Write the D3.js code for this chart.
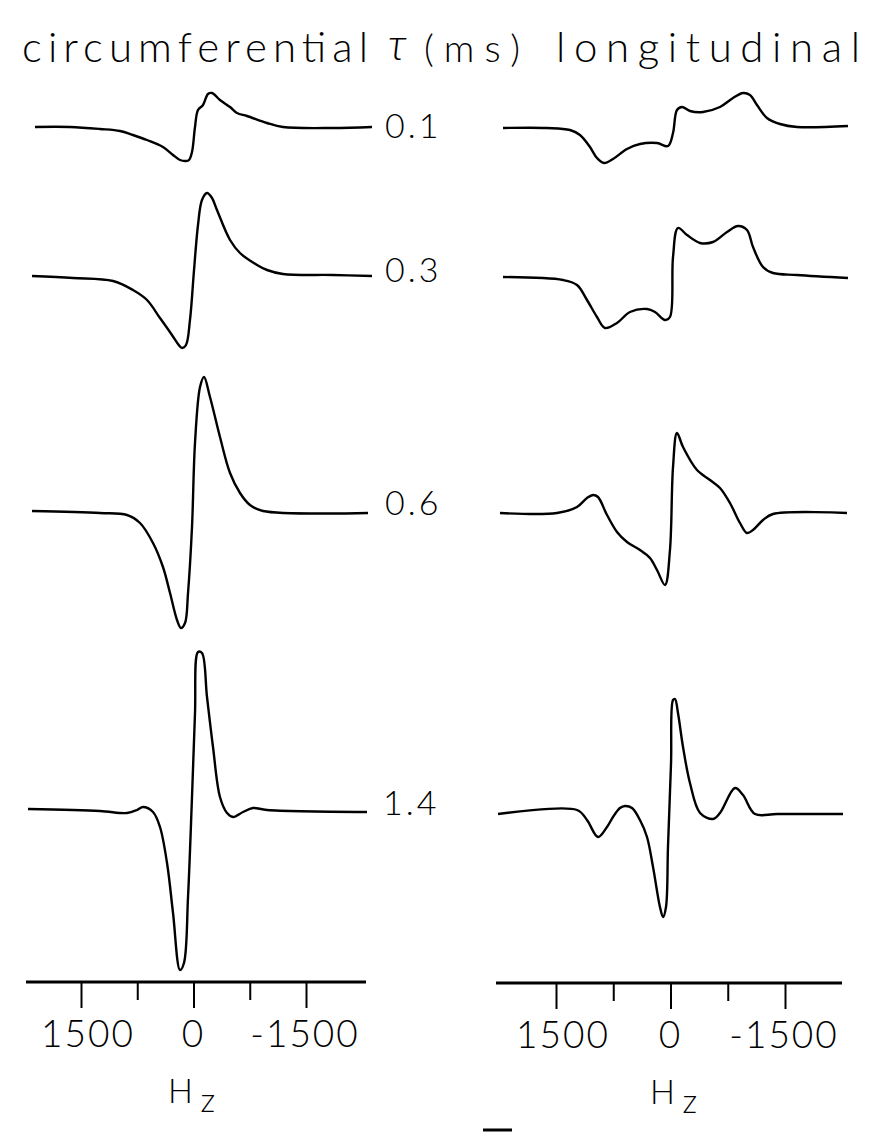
<!DOCTYPE html>
<html>
<head>
<meta charset="utf-8">
<script src="https://cdn.jsdelivr.net/npm/d3@7/dist/d3.min.js"></script>
<style>
  html, body { margin: 0; padding: 0; background: #fff; }
  svg { display: block; }
  text { font-family: "Lato", "DejaVu Sans", sans-serif; font-weight: 300; fill: #000; }
</style>
</head>
<body>
<svg id="chart" width="876" height="1146"></svg>
<script>
// ---------- DATA (frequency in Hz, signal in arbitrary units) ----------
const delays = ["0.1", "0.3", "0.6", "1.4"];          // τ (ms)
const tickValues = [1500, 750, 0, -750, -1500];
const tickLabels = ["1500", "", "0", "", "-1500"];
const panelTitles = ["circumferential", "longitudinal"];

// circumferential spectra [Hz, signal]
const circ_01 = [[2113,0],[1647,0],[1247,-2],[980,-4],[807,-8],[620,-13],[407,-20],[273,-28],[180,-33],[100,-34],[60,-33],[20,-25],[-20,0],[-60,17],[-127,22],[-193,33],[-247,34],[-353,27],[-487,20],[-580,14],[-713,11],[-980,4],[-1193,0],[-1860,-1],[-2380,0]];
const circ_03 = [[2153,0],[1607,-2],[1073,-5],[807,-14],[620,-24],[447,-42],[287,-59],[207,-68],[153,-72],[100,-69],[47,-44],[-7,6],[-60,51],[-113,76],[-180,83],[-247,78],[-313,66],[-487,36],[-620,23],[-847,11],[-980,6],[-1193,2],[-1860,1],[-2380,0]];
const circ_06 = [[2153,1],[1247,-1],[887,-3],[713,-11],[540,-31],[407,-55],[313,-81],[220,-108],[167,-116],[113,-111],[73,-81],[20,-15],[-20,69],[-87,125],[-140,135],[-220,115],[-353,75],[-487,39],[-620,19],[-753,7],[-927,1],[-2327,-1]];
const circ_14 = [[2207,1],[1247,-1],[887,-3],[753,0],[673,3],[540,-2],[447,-17],[353,-53],[273,-103],[180,-160],[127,-153],[73,-87],[20,13],[-20,97],[-60,158],[-113,157],[-180,113],[-260,63],[-353,13],[-447,-3],[-527,-7],[-660,-2],[-793,2],[-980,0],[-2313,-2]];

// longitudinal spectra [Hz, signal]
const long_01 = [[2194,-1],[1618,-1],[1317,-3],[1186,-8],[1055,-20],[963,-31],[871,-36],[753,-32],[570,-22],[400,-17],[177,-16],[33,-19],[-33,-6],[-85,17],[-151,20],[-255,16],[-426,15],[-648,20],[-819,29],[-950,34],[-1041,32],[-1133,22],[-1264,9],[-1434,3],[-1657,0],[-2325,1]];
const long_03 = [[2194,0],[1408,-3],[1225,-8],[1094,-23],[963,-40],[858,-51],[701,-46],[531,-35],[308,-32],[203,-35],[72,-43],[7,-40],[-33,20],[-98,49],[-216,42],[-387,34],[-557,35],[-740,45],[-884,51],[-1002,47],[-1081,30],[-1212,10],[-1343,4],[-1657,2],[-2325,-1]];
const long_06 = [[2234,0],[1487,0],[1225,6],[1094,15],[1015,18],[950,16],[832,-2],[701,-19],[570,-29],[400,-37],[269,-45],[177,-57],[72,-72],[7,-37],[-33,46],[-85,80],[-164,66],[-347,43],[-517,33],[-648,25],[-779,10],[-910,-10],[-1002,-20],[-1081,-17],[-1212,-7],[-1343,-1],[-2312,0]];
const long_14 = [[2260,0],[1225,4],[1094,-6],[950,-23],[832,-13],[753,-3],[662,6],[596,8],[504,6],[400,-6],[308,-23],[229,-53],[138,-93],[98,-103],[59,-93],[33,-33],[-7,51],[-33,114],[-59,115],[-98,101],[-164,67],[-255,31],[-387,1],[-557,-5],[-648,1],[-845,26],[-950,19],[-1107,0],[-1400,0],[-2260,0]];

const circSeries = [circ_01, circ_03, circ_06, circ_14];
const longSeries = [long_01, long_03, long_06, long_14];

// ---------- LAYOUT ----------
const svg = d3.select("#chart");
const panels = [
  { series: circSeries, xRange: [81, 306], axisY: 982, lineX: [26, 366], baselines: [127, 276, 512, 810], hzX: 168 },
  { series: longSeries, xRange: [556, 785], axisY: 983, lineX: [496, 842], baselines: [127, 277, 513, 814], hzX: 650 }
];

panels.forEach((p) => {
  const x = d3.scaleLinear().domain([1500, -1500]).range(p.xRange);

  p.series.forEach((data, i) => {
    const base = p.baselines[i];
    const y = d3.scaleLinear().domain([-200, 200]).range([base + 200, base - 200]);
    const line = d3.line()
      .x(d => x(d[0]))
      .y(d => y(d[1]))
      .curve(d3.curveCatmullRom.alpha(0.5));
    svg.append("path")
      .datum(data)
      .attr("d", line)
      .attr("fill", "none")
      .attr("stroke", "#000")
      .attr("stroke-width", 2.4)
      .attr("stroke-linejoin", "round");
  });

  // axis
  const g = svg.append("g").attr("transform", `translate(0,${p.axisY})`);
  const axis = d3.axisBottom(x).tickValues(tickValues).tickSize(26).tickFormat("");
  g.call(axis);
  g.select(".domain").remove();
  g.selectAll(".tick line")
    .attr("stroke", "#000")
    .attr("stroke-width", 2)
    .attr("y2", (d, i) => tickLabels[i] === "" ? 18 : 26);
  g.append("line")
    .attr("x1", p.lineX[0]).attr("x2", p.lineX[1])
    .attr("y1", 0).attr("y2", 0)
    .attr("stroke", "#000").attr("stroke-width", 3);

  tickValues.forEach((v, i) => {
    if (!tickLabels[i]) return;
    const cx = tickLabels[i] === "1500" ? x(v) + 7 : (tickLabels[i] === "-1500" ? x(v) - 1 : x(v));
    svg.append("text")
      .attr("x", cx)
      .attr("y", p.axisY + 65)
      .attr("text-anchor", "middle")
      .attr("font-size", 37)
      .attr("letter-spacing", 2)
      .text(tickLabels[i]);
  });

  const hz = svg.append("text")
    .attr("x", p.hzX)
    .attr("y", p.axisY + 121)
    .attr("font-size", 33);
  hz.append("tspan").text("H");
  hz.append("tspan").attr("dx", 8).attr("dy", 9).text("z");
});

// titles
svg.append("text").attr("x", 22).attr("y", 62).attr("font-size", 42)
  .attr("textLength", 346).attr("lengthAdjust", "spacing").text(panelTitles[0]);
svg.append("text").attr("x", 388).attr("y", 60).attr("font-size", 44)
  .attr("font-style", "italic").text("τ");
svg.append("text").attr("x", 424).attr("y", 62).attr("font-size", 38)
  .attr("textLength", 96).attr("lengthAdjust", "spacing").text("(ms)");
svg.append("text").attr("x", 556).attr("y", 62).attr("font-size", 42)
  .attr("textLength", 304).attr("lengthAdjust", "spacing").text(panelTitles[1]);

// delay labels
const labelPos = [[385, 138], [385, 282], [385, 515], [383, 815]];
delays.forEach((d, i) => {
  svg.append("text")
    .attr("x", labelPos[i][0]).attr("y", labelPos[i][1])
    .attr("font-size", 34)
    .attr("letter-spacing", 3)
    .text(d);
});

// small scale bar
svg.append("line").attr("x1", 483).attr("x2", 512).attr("y1", 1130).attr("y2", 1130)
  .attr("stroke", "#000").attr("stroke-width", 3);
</script>
</body>
</html>
